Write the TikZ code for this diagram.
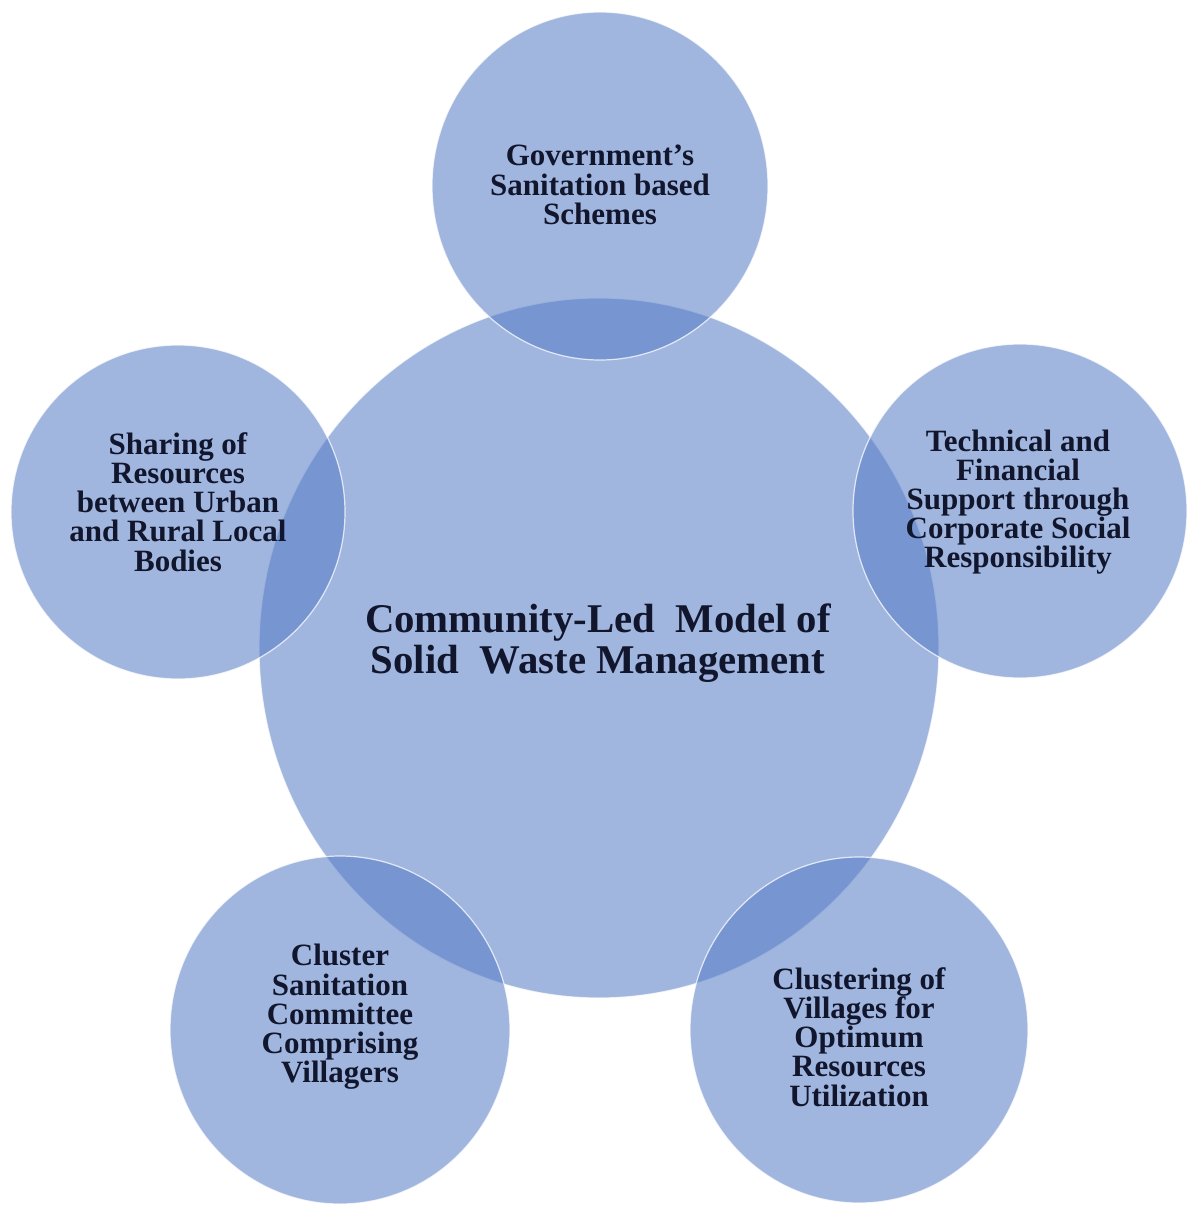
\documentclass[tikz,border=0pt]{standalone}
\usepackage{fontspec}
\setmainfont{Liberation Serif}
\usetikzlibrary{shapes.geometric}
\definecolor{circfill}{RGB}{85,124,198}
\definecolor{txt}{RGB}{18,22,45}
\begin{document}
\begin{tikzpicture}[x=0.5pt,y=-0.5pt,
  bubble/.style={ellipse, fill=circfill, fill opacity=0.56, draw=white, draw opacity=0.75, line width=0.6pt, inner sep=0pt},
  smalltxt/.style={text=txt, align=center, inner sep=0pt, font=\bfseries\fontsize{15.5}{14.6}\selectfont},
  bigtxt/.style={text=txt, align=center, inner sep=0pt, font=\bfseries\fontsize{20.4}{20.5}\selectfont}]
\useasboundingbox (0,0) rectangle (1200,1205);
\node[bubble, minimum width=340pt, minimum height=350pt] (center) at (599,648) {};
\node[bubble, minimum width=168pt, minimum height=174pt] (top) at (600,186) {};
\node[bubble, minimum width=167pt, minimum height=167pt] (left) at (178,512) {};
\node[bubble, minimum width=167pt, minimum height=167pt] (right) at (1020,511) {};
\node[bubble, minimum width=170pt, minimum height=174pt] (bl) at (340,1030) {};
\node[bubble, minimum width=169pt, minimum height=173pt] (br) at (859,1030) {};
\node[bigtxt] (tcenter) at (598,643) {Community-Led\ \ Model of\\Solid\ \ Waste Management};
\node[smalltxt] (ttop) at (600,185) {Government's\\Sanitation based\\Schemes};
\node[smalltxt] (tleft) at (178,502) {Sharing of\\Resources\\between Urban\\and Rural Local\\Bodies};
\node[smalltxt] (tright) at (1018,502) {Technical and\\Financial\\Support through\\Corporate Social\\Responsibility};
\node[smalltxt] (tbl) at (340,1017) {Cluster\\Sanitation\\Committee\\Comprising\\Villagers};
\node[smalltxt] (tbr) at (859,1037) {Clustering of\\Villages for\\Optimum\\Resources\\Utilization};
\end{tikzpicture}
\end{document}
